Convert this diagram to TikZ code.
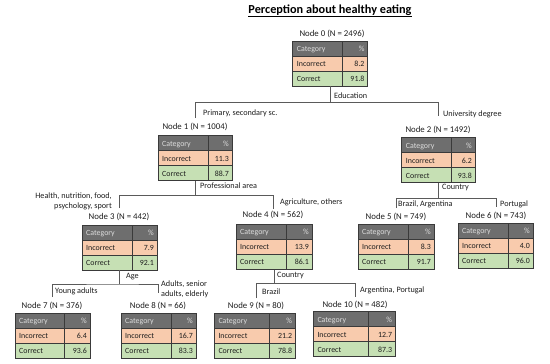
\documentclass[tikz,border=0pt]{standalone}
\usepackage{fontspec}
\setmainfont{Carlito}
\definecolor{hdrbg}{HTML}{6E6E6E}
\definecolor{hdrtxt}{HTML}{DCDCDC}
\definecolor{incbg}{HTML}{F8CBAD}
\definecolor{corbg}{HTML}{C6E0B4}
\definecolor{gridclr}{HTML}{3A3A3A}
\definecolor{lineclr}{HTML}{5A5A5A}
\definecolor{txt}{HTML}{1E1E1E}
\tikzset{
  lbl/.style={inner sep=1pt, text=txt, font=\fontsize{8.2}{10}\selectfont},
  ntitle/.style={inner sep=1pt, text=txt, font=\fontsize{8.8}{10}\selectfont},
  cell/.style={inner sep=0pt, text=txt, font=\fontsize{7.9}{10}\selectfont},
  conn/.style={draw=lineclr, line width=0.8pt},
  gridline/.style={draw=gridclr, line width=0.7pt},
}
\newcommand\ctab[7]{%
\begin{scope}[shift={(#2,#3)}]
\fill[fill=hdrbg] (0,0) rectangle ({#4+#5},15);
\fill[fill=incbg] (0,15) rectangle ({#4+#5},30);
\fill[fill=corbg] (0,30) rectangle ({#4+#5},45);
\draw[gridline] (0,0) rectangle ({#4+#5},45);
\draw[gridline] (0,15) -- ({#4+#5},15) (0,30) -- ({#4+#5},30) (#4,0) -- (#4,45);
\node[cell, text=hdrtxt, anchor=base west] (#1c) at (4,10.3) {Category};
\node[cell, text=hdrtxt, anchor=base east] (#1p) at ({#4+#5-3},10.3) {\%};
\node[cell, anchor=base west] (#1i) at (4,25.3) {Incorrect};
\node[cell, anchor=base east] (#1iv) at ({#4+#5-3},25.3) {#6};
\node[cell, anchor=base west] (#1k) at (4,40.3) {Correct};
\node[cell, anchor=base east] (#1kv) at ({#4+#5-3},40.3) {#7};
\coordinate (#1) at ({(#4+#5)/2},45);
\end{scope}}
\begin{document}
\begin{tikzpicture}[x=1pt,y=-1pt]
\fill[white] (0,0) rectangle (550,364);
\useasboundingbox (0,0) rectangle (550,364);
% title
\node[inner sep=0pt, anchor=base, font=\fontsize{12.25}{14}\selectfont\bfseries, text=black] (title) at (330,13.5) {Perception about healthy eating};
\draw[line width=0.9pt] ([yshift=-3.2pt]title.base west) -- ([yshift=-3.2pt]title.base east);
% tables
\ctab{t0}{292.7}{41.3}{49.6}{25.4}{8.2}{91.8}
\ctab{t1}{158}{135.7}{50}{24}{11.3}{88.7}
\ctab{t2}{401.7}{137.7}{49.3}{24}{6.2}{93.8}
\ctab{t3}{82}{225}{50}{25}{7.9}{92.1}
\ctab{t4}{236}{224.5}{50}{26}{13.9}{86.1}
\ctab{t5}{358}{224}{50}{26}{8.3}{91.7}
\ctab{t6}{458}{223}{50}{25}{4.0}{96.0}
\ctab{t7}{15}{313.5}{49}{26}{6.4}{93.6}
\ctab{t8}{121}{313.5}{50}{25}{16.7}{83.3}
\ctab{t9}{214.3}{313.3}{55}{26}{21.2}{78.8}
\ctab{t10}{313.3}{311.7}{55}{27}{12.7}{87.3}
% node titles
\node[ntitle] (n0) at (332,34) {Node 0 (N = 2496)};
\node[ntitle] (n1) at (195,127) {Node 1 (N = 1004)};
\node[ntitle] (n2) at (438,130) {Node 2 (N = 1492)};
\node[ntitle] (n3) at (119,217) {Node 3 (N = 442)};
\node[ntitle] (n4) at (273,215) {Node 4 (N = 562)};
\node[ntitle] (n5) at (396,217) {Node 5 (N = 749)};
\node[ntitle] (n6) at (496,216) {Node 6 (N = 743)};
\node[ntitle] (n7) at (52,306) {Node 7 (N = 376)};
\node[ntitle] (n8) at (158,306) {Node 8 (N = 66)};
\node[ntitle] (n9) at (256,306) {Node 9 (N = 80)};
\node[ntitle] (n10) at (355,305) {Node 10 (N = 482)};
% split: Education
\path (t0) ++(0,16.3) coordinate (s0);
\draw[conn] (t0) -- (s0);
\draw[conn] (n1 |- 0,118) |- (s0) -| (n2 |- 0,116);
\node[lbl, anchor=west] (e0) at (333,96) {Education};
\node[lbl, anchor=west] (b1) at (202,113) {Primary, secondary sc.};
\node[lbl, anchor=west] (b2) at (442,114) {University degree};
% split: Professional area
\path (t1) ++(0,15) coordinate (s1);
\draw[conn] (t1) -- (s1);
\draw[conn] (n3 |- 0,208) |- (s1) -| (n4 |- 0,209);
\node[lbl, anchor=west] (e1) at (199,186) {Professional area};
\node[lbl, anchor=east, align=right] (b3) at (113,201.5) {Health, nutrition, food,\\psychology, sport};
\node[lbl, anchor=west] (b4) at (279,202) {Agriculture, others};
% split: Country (node 2)
\path (t2) ++(0,16) coordinate (s2);
\draw[conn] (t2) -- (s2);
\draw[conn] (n5 |- 0,208) |- (s2) -| (n6 |- 0,207);
\node[lbl, anchor=west] (e2) at (441,187) {Country};
\node[lbl, anchor=west] (b5) at (397,204) {Brazil, Argentina};
\node[lbl, anchor=west] (b6) at (499,204) {Portugal};
% split: Age
\path (t3) ++(0,14) coordinate (s3);
\draw[conn] (t3) -- (s3);
\draw[conn] (n7 |- 0,297) |- (s3) -| (n8 |- 0,293);
\node[lbl, anchor=west] (e3) at (125,277) {Age};
\node[lbl, anchor=west] (b7) at (54,291) {Young adults};
\node[lbl, anchor=west, align=left] (b8) at (160,289.5) {Adults, senior\\adults, elderly};
% split: Country (node 4)
\path (t4) ++(0,14) coordinate (s4);
\draw[conn] (t4) -- (s4);
\draw[conn] (n9 |- 0,298) |- (s4) -| (n10 |- 0,297);
\node[lbl, anchor=west] (e4) at (276,275) {Country};
\node[lbl, anchor=west] (b9) at (261,292) {Brazil};
\node[lbl, anchor=west] (b10) at (359,290) {Argentina, Portugal};
\end{tikzpicture}
\end{document}
